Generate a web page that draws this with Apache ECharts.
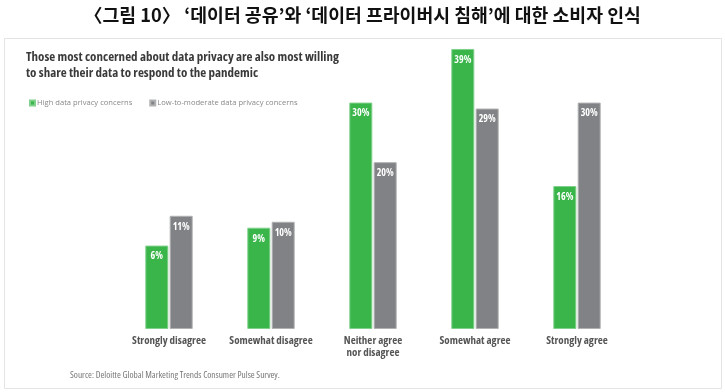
<!DOCTYPE html>
<html><head><meta charset="utf-8">
<script src="https://cdn.jsdelivr.net/npm/echarts@6/dist/echarts.min.js"></script>
<style>html,body{margin:0;padding:0;background:#fff}#c{width:725px;height:392px}</style>
</head><body><div id="c"></div>
<script>
const categories = ['Strongly disagree', 'Somewhat disagree', 'Neither agree\nnor disagree', 'Somewhat agree', 'Strongly agree'];
const highConcern = [6, 9, 30, 39, 16];
const lowModConcern = [11, 10, 20, 29, 30];
const seriesNames = ['High data privacy concerns', 'Low-to-moderate data privacy concerns'];
const titleText = '〈그림 10〉 ‘데이터 공유’와 ‘데이터 프라이버시 침해’에 대한 소비자 인식';
const subtitleText = 'Those most concerned about data privacy are also most willing\nto share their data to respond to the pandemic';
const sourceText = 'Source: Deloitte Global Marketing Trends Consumer Pulse Survey.';

const FAM = "'Open Sans'";
const chart = echarts.init(document.getElementById('c'), null, {renderer: 'canvas'});
const labelCfg = {show: true, position: 'insideTop', distance: 6, color: '#fff', fontWeight: 'bold condensed', fontSize: 10, fontFamily: FAM, formatter: '{c}%'};
chart.setOption({
  backgroundColor: '#fff',
  animation: false,
  graphic: [
    {type: 'rect', shape: {x: 4.5, y: 38.5, width: 717, height: 350}, style: {fill: '#fff', stroke: '#e4e4e4', lineWidth: 1}, z: -10},
    {type: 'text', left: 'center', top: 6, style: {text: titleText, font: "bold 18.3px 'Noto Sans CJK KR'", fill: '#111'}},
    {type: 'text', left: 26, top: 49, style: {text: subtitleText, font: "bold condensed 13px " + FAM, fill: '#3a3a3a', lineHeight: 16}},
    {type: 'text', left: 70, top: 371, style: {text: sourceText, font: "condensed 9.3px " + FAM, fill: '#777'}}
  ],
  legend: {
    left: 24, top: 94, itemWidth: 5, itemHeight: 5, itemGap: 17, icon: 'rect',
    textStyle: {fontSize: 7.6, color: '#888', fontFamily: FAM, padding: [0, 0, 0, -3]},
    data: seriesNames
  },
  grid: {left: 118, right: 97, top: 43, bottom: 63},
  xAxis: {
    type: 'category', data: categories,
    axisLine: {show: false}, axisTick: {show: false},
    axisLabel: {color: '#555', fontWeight: 'bold condensed', fontSize: 11, fontFamily: FAM, margin: 6, lineHeight: 12, interval: 0}
  },
  yAxis: {type: 'value', min: -8, max: 40, startValue: -8, show: false, splitLine: {show: false}},
  series: [
    {name: seriesNames[0], type: 'bar', data: highConcern, barWidth: 23, barGap: '6%',
     itemStyle: {color: '#39b54a', borderColor: '#7fd08a', borderWidth: 1}, label: labelCfg},
    {name: seriesNames[1], type: 'bar', data: lowModConcern, barWidth: 23,
     itemStyle: {color: '#818285', borderColor: '#b0b1b3', borderWidth: 1}, label: labelCfg}
  ]
});
</script></body></html>
